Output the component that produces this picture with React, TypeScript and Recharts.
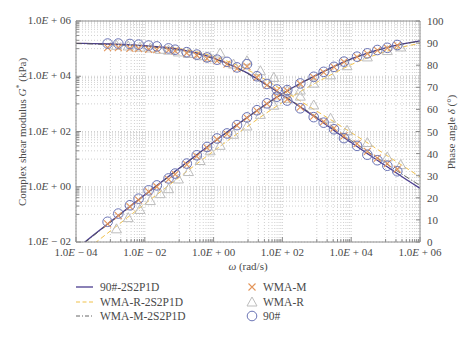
import React from "react";
import { ComposedChart, Line, Scatter, XAxis, YAxis, CartesianGrid, ReferenceLine } from "recharts";

// fitted master curves, half-decade grid of omega (rad/s)
const LINE_W = [1e-4, 3.16e-4, 1e-3, 3.16e-3, 0.01, 0.0316, 0.1, 0.316, 1, 3.16, 10, 31.6, 100, 316, 1000, 3162, 1e4, 31623, 1e5, 316228, 1e6];
const G_90_FIT = [0.0055, 0.0174, 0.0537, 0.166, 0.513, 1.55, 4.68, 14.1, 41.7, 120, 339, 933, 2344, 5370, 11220, 22910, 42660, 70790, 107150, 147910, 190550];
const G_WMAM_FIT = [0.0052, 0.0166, 0.0513, 0.158, 0.49, 1.48, 4.47, 13.5, 40.0, 115, 330, 912, 2290, 5250, 11000, 22400, 41700, 69200, 104700, 144500, 186200];
const G_WMAR_FIT = [0.0025, 0.0081, 0.0251, 0.0776, 0.24, 0.724, 2.19, 6.61, 19.5, 56.2, 158, 437, 1122, 2692, 6026, 12880, 26300, 47860, 77620, 114800, 154900];
const D_90_FIT = [89.9, 89.8, 89.6, 89.3, 88.9, 88.2, 87.2, 85.6, 83.2, 80.2, 76.3, 71.5, 66.5, 61.3, 56.0, 50.5, 45.0, 39.7, 34.5, 29.3, 24.3];
const D_WMAM_FIT = [89.8, 89.6, 89.3, 89.0, 88.5, 87.8, 86.8, 85.2, 82.9, 79.9, 76.1, 71.4, 66.6, 61.6, 56.5, 51.2, 45.9, 40.7, 35.6, 30.5, 25.6];
const D_WMAR_FIT = [89.9, 89.8, 89.6, 89.3, 88.9, 88.3, 87.5, 86.1, 84.0, 81.2, 77.8, 73.5, 68.8, 64.0, 59.2, 54.4, 49.5, 44.6, 39.5, 34.5, 29.5];

// measured points (90# and WMA-M share the shifted frequencies)
const MARK_W = [8.3e-4, 1.7e-3, 3.7e-3, 6.6e-3, 0.0129, 0.0224, 0.049, 0.076, 0.166, 0.324, 0.646, 1.26, 2.45, 4.79, 9.33, 18.2, 35.5, 69.2, 138, 331, 813, 1585, 3162, 6166, 14790, 29510, 57540, 112200, 218800];
const G_90 = [0.054, 0.107, 0.214, 0.37, 0.74, 1.12, 2.0, 3.0, 6.9, 13.8, 27.5, 56, 85, 170, 324, 589, 1047, 1820, 3162, 5500, 9550, 14450, 21900, 33900, 51300, 67600, 89100, 107000, 135000];
const D_90 = [89.8, 89.8, 89.6, 89.3, 88.9, 88.5, 87.6, 87.0, 85.9, 84.8, 83.5, 82.5, 81.5, 79.0, 80.5, 75.0, 71.5, 69.0, 64.0, 60.5, 56.5, 54.0, 51.0, 47.0, 43.5, 39.5, 37.0, 34.5, 32.0];
const G_WMAM = [0.045, 0.09, 0.19, 0.33, 0.66, 1.0, 1.85, 2.8, 6.3, 12.6, 25.7, 52, 81, 162, 309, 562, 1000, 1740, 3020, 5250, 9120, 13800, 21400, 33100, 50100, 66100, 87100, 105000, 132000];
const D_WMAM = [88.0, 88.0, 87.6, 87.5, 87.2, 87.0, 86.8, 86.5, 85.5, 84.5, 83.0, 82.0, 80.5, 78.5, 79.5, 74.5, 71.0, 68.5, 64.5, 61.0, 57.0, 54.5, 51.5, 48.0, 44.5, 41.0, 38.0, 35.5, 33.0];

const WMAR_W = [1.5e-3, 3.3e-3, 7.2e-3, 0.0145, 0.0282, 0.049, 0.095, 0.186, 0.407, 0.794, 1.55, 3.8, 9.33, 22.9, 56.2, 138, 331, 813, 2512, 7586, 29510, 112200, 275400];
const G_WMAR = [0.03, 0.076, 0.151, 0.316, 0.562, 0.851, 1.91, 3.55, 8.91, 20.0, 31.6, 79.4, 158, 417, 891, 1585, 3162, 5623, 11220, 23990, 50120, 85110, 114800];
const D_WMAR = [89.0, 88.7, 88.2, 87.8, 87.2, 86.8, 86.0, 85.3, 84.3, 83.5, 85.5, 80.5, 82.0, 77.5, 74.5, 68.5, 66.0, 62.0, 56.0, 50.5, 45.0, 38.5, 35.0];

// axis ticks: labelled every two decades, minor lines in the upper decade
const X_TICKS = [1e-4, 1e-3, 2e-3, 3e-3, 4e-3, 5e-3, 6e-3, 7e-3, 8e-3, 9e-3, 1e-2, 0.1, 0.2, 0.3, 0.4, 0.5, 0.6, 0.7, 0.8, 0.9, 1, 10, 20, 30, 40, 50, 60, 70, 80, 90, 100, 1e3, 2e3, 3e3, 4e3, 5e3, 6e3, 7e3, 8e3, 9e3, 1e4, 1e5, 2e5, 3e5, 4e5, 5e5, 6e5, 7e5, 8e5, 9e5, 1e6];
const G_TICKS = [1e-2, 0.1, 0.2, 0.3, 0.4, 0.5, 0.6, 0.7, 0.8, 0.9, 1, 10, 20, 30, 40, 50, 60, 70, 80, 90, 100, 1e3, 2e3, 3e3, 4e3, 5e3, 6e3, 7e3, 8e3, 9e3, 1e4, 1e5, 2e5, 3e5, 4e5, 5e5, 6e5, 7e5, 8e5, 9e5, 1e6];
const MAJOR = [1e-4, 1e-2, 1, 100, 1e4, 1e6];
const D_TICKS = [0, 10, 20, 30, 40, 50, 60, 70, 80, 90, 100];

const pts = (ws: number[], vs: number[]) => ws.map((w, i) => ({ w, v: vs[i] }));

const FONT = "'Liberation Serif', 'DejaVu Serif', serif";
const AXIS = "#8c8c8c";
const TXT = "#4a4a4a";
const C90 = "#4b3d8f";
const CR = "#f0c14b";
const CM = "#555555";
const CIRC = "#6b74b5";
const CROSS = "#e3955a";
const TRI = "#bdbdbd";

const isMajor = (v: number) => MAJOR.some((m) => Math.abs(m - v) / m < 1e-6);

function ExpLabel({ v, x, y, anchor }: { v: number; x: number; y: number; anchor: string }) {
  const e = Math.round(Math.log10(v));
  const sign = e < 0 ? "\u2212" : "+";
  const abs = String(Math.abs(e)).padStart(2, "0");
  return (
    <text x={x} y={y} textAnchor={anchor} fontSize={11} fill={TXT} fontFamily={FONT}>
      1.0<tspan fontStyle="italic">E</tspan> {sign} {abs}
    </text>
  );
}

const XTick = (p: any) => {
  const v = p.payload.value;
  const mj = isMajor(v);
  return (
    <g>
      <line x1={p.x} x2={p.x} y1={p.y} y2={p.y - (mj ? 5 : 3)} stroke={AXIS} />
      {mj && <ExpLabel v={v} x={p.x} y={p.y + 14} anchor="middle" />}
    </g>
  );
};

const LTick = (p: any) => {
  const v = p.payload.value;
  const mj = isMajor(v);
  return (
    <g>
      <line x1={p.x} x2={p.x + (mj ? 5 : 3)} y1={p.y} y2={p.y} stroke={AXIS} />
      {mj && <ExpLabel v={v} x={p.x - 5} y={p.y + 3} anchor="end" />}
    </g>
  );
};

const RTick = (p: any) => (
  <g>
    <line x1={p.x} x2={p.x - 4} y1={p.y} y2={p.y} stroke={AXIS} />
    <text x={p.x + 7} y={p.y + 4} fontSize={11} fill={TXT} fontFamily={FONT}>
      {p.payload.value}
    </text>
  </g>
);

const Circle = (p: any) => <circle cx={p.cx} cy={p.cy} r={4.8} fill="none" stroke={CIRC} strokeWidth={1} />;
const Cross = (p: any) => (
  <path d={`M${p.cx - 3.5},${p.cy - 3.5}L${p.cx + 3.5},${p.cy + 3.5}M${p.cx - 3.5},${p.cy + 3.5}L${p.cx + 3.5},${p.cy - 3.5}`} stroke={CROSS} strokeWidth={1.1} />
);
const Tri = (p: any) => (
  <path d={`M${p.cx},${p.cy - 5}L${p.cx + 5},${p.cy + 4}L${p.cx - 5},${p.cy + 4}Z`} fill="none" stroke={TRI} strokeWidth={1} />
);

export default function App() {
  return (
    <div style={{ position: "fixed", left: 0, top: 0, width: 474, height: 338, background: "#fff" }}>
      <ComposedChart width={474} height={338} margin={{ top: 21, right: 0, bottom: 0, left: 0 }}>
        <CartesianGrid yAxisId="left" stroke="#c4c4c4" strokeDasharray="1 2" strokeWidth={0.8} />
        <XAxis dataKey="w" type="number" scale="log" domain={[1e-4, 1e6]} allowDataOverflow ticks={X_TICKS} interval={0} height={96} tickSize={0} tickMargin={0} tickLine={false} stroke={AXIS} tick={XTick} />
        <YAxis yAxisId="left" type="number" scale="log" domain={[1e-2, 1e6]} allowDataOverflow ticks={G_TICKS} interval={0} width={76} tickSize={0} tickMargin={0} tickLine={false} stroke={AXIS} tick={LTick} />
        <YAxis yAxisId="right" orientation="right" type="number" domain={[0, 100]} ticks={D_TICKS} interval={0} width={54} tickSize={0} tickMargin={0} tickLine={false} stroke={AXIS} tick={RTick} />
        <ReferenceLine yAxisId="left" y={1e6} stroke={AXIS} />

        <Scatter yAxisId="left" data={pts(WMAR_W, G_WMAR)} dataKey="v" shape={Tri} isAnimationActive={false} />
        <Scatter yAxisId="right" data={pts(WMAR_W, D_WMAR)} dataKey="v" shape={Tri} isAnimationActive={false} />
        <Scatter yAxisId="left" data={pts(MARK_W, G_WMAM)} dataKey="v" shape={Cross} isAnimationActive={false} />
        <Scatter yAxisId="right" data={pts(MARK_W, D_WMAM)} dataKey="v" shape={Cross} isAnimationActive={false} />
        <Scatter yAxisId="left" data={pts(MARK_W, G_90)} dataKey="v" shape={Circle} isAnimationActive={false} />
        <Scatter yAxisId="right" data={pts(MARK_W, D_90)} dataKey="v" shape={Circle} isAnimationActive={false} />

        <Line yAxisId="left" data={pts(LINE_W, G_WMAR_FIT)} dataKey="v" type="monotone" dot={false} stroke={CR} strokeWidth={1} strokeDasharray="5 3" isAnimationActive={false} />
        <Line yAxisId="right" data={pts(LINE_W, D_WMAR_FIT)} dataKey="v" type="monotone" dot={false} stroke={CR} strokeWidth={1} strokeDasharray="5 3" isAnimationActive={false} />
        <Line yAxisId="left" data={pts(LINE_W, G_90_FIT)} dataKey="v" type="monotone" dot={false} stroke={C90} strokeWidth={1.3} isAnimationActive={false} />
        <Line yAxisId="right" data={pts(LINE_W, D_90_FIT)} dataKey="v" type="monotone" dot={false} stroke={C90} strokeWidth={1.3} isAnimationActive={false} />
        <Line yAxisId="left" data={pts(LINE_W, G_WMAM_FIT)} dataKey="v" type="monotone" dot={false} stroke={CM} strokeWidth={0.9} strokeDasharray="6 2 1 2" isAnimationActive={false} />
        <Line yAxisId="right" data={pts(LINE_W, D_WMAM_FIT)} dataKey="v" type="monotone" dot={false} stroke={CM} strokeWidth={0.9} strokeDasharray="6 2 1 2" isAnimationActive={false} />
      </ComposedChart>

      <svg width={474} height={338} style={{ position: "absolute", left: 0, top: 0, pointerEvents: "none" }} fontFamily={FONT} fill={TXT}>
        <text transform="translate(26,132) rotate(-90)" textAnchor="middle" fontSize={11}>
          Complex shear modulus <tspan fontStyle="italic">G</tspan>
          <tspan fontSize={8} dy={-4}>*</tspan>
          <tspan dy={4}> (kPa)</tspan>
        </text>
        <text transform="translate(455,132) rotate(-90)" textAnchor="middle" fontSize={11}>
          Phase angle <tspan fontStyle="italic">δ</tspan> (°)
        </text>
        <text x={248} y={270} textAnchor="middle" fontSize={11}>
          <tspan fontStyle="italic">ω</tspan> (rad/s)
        </text>

        <line x1={76} x2={93} y1={287} y2={287} stroke={C90} strokeWidth={1.3} />
        <text x={100} y={291} fontSize={11.5}>90#-2S2P1D</text>
        <line x1={76} x2={93} y1={302} y2={302} stroke={CR} strokeWidth={1} strokeDasharray="4 2.5" />
        <text x={100} y={306} fontSize={11.5}>WMA-R-2S2P1D</text>
        <line x1={76} x2={93} y1={316} y2={316} stroke={CM} strokeWidth={0.9} strokeDasharray="4 2 1 2" />
        <text x={100} y={320} fontSize={11.5}>WMA-M-2S2P1D</text>

        <Cross cx={252} cy={287} />
        <text x={263} y={291} fontSize={11.5}>WMA-M</text>
        <Tri cx={252} cy={302} />
        <text x={263} y={306} fontSize={11.5}>WMA-R</text>
        <Circle cx={252} cy={316} />
        <text x={263} y={320} fontSize={11.5}>90#</text>
      </svg>
    </div>
  );
}
